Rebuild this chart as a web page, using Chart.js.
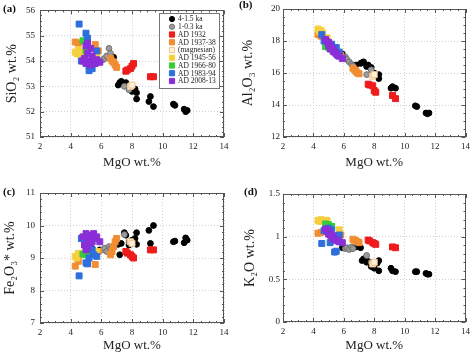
<!DOCTYPE html>
<html>
<head>
<meta charset="utf-8">
<script src="https://cdn.jsdelivr.net/npm/chart.js@4"></script>
<style>
  body { margin: 0; background: #fff; }
  canvas { position: absolute; }
</style>
</head>
<body>
<canvas id="ca" width="237" height="176" style="left:0;top:0"></canvas>
<canvas id="cb" width="237" height="176" style="left:237px;top:0"></canvas>
<canvas id="cc" width="237" height="177" style="left:0;top:176px"></canvas>
<canvas id="cd" width="237" height="177" style="left:237px;top:176px"></canvas>
<script>
// tick values
const xTicks = [2, 4, 6, 8, 10, 12, 14];
const sio2Ticks = [51, 52, 53, 54, 55, 56];
const al2o3Ticks = [12, 14, 16, 18, 20];
const fe2o3Ticks = [7, 8, 9, 10, 11];
const k2oTicks = [0, 0.5, 1, 1.5];

const seriesLabels = ['4-1.5 ka', '1-0.3 ka', 'AD 1932', 'AD 1937-38', '(magnesian)',
  'AD 1945-56', 'AD 1966-80', 'AD 1983-94', 'AD 2008-13'];

// 4-1.5 ka
const mgoKa4 = [5.4, 5.9, 6.8, 7.1, 7.2, 7.3, 7.5, 7.6, 7.8, 8.0, 8.2, 8.3, 8.3, 9.1, 9.2, 9.4, 10.7, 10.8, 11.4, 11.5, 11.6];
const sio2Ka4 = [53.9, 54.0, 54.15, 53.05, 53.15, 53.2, 53.1, 53.15, 52.95, 52.8, 52.9, 52.75, 52.5, 52.4, 52.6, 52.2, 52.3, 52.25, 52.1, 52.0, 52.05];
const al2o3Ka4 = [17.4, 17.2, 16.5, 16.6, 16.65, 16.7, 16.4, 16.5, 16.35, 16.0, 15.8, 15.65, 15.9, 15.05, 15.15, 15.05, 13.95, 13.9, 13.5, 13.45, 13.5];
const fe2o3Ka4 = [9.3, 9.25, 9.35, 9.42, 9.1, 9.45, 9.78, 9.7, 9.4, 9.55, 9.6, 9.78, 9.42, 9.85, 9.45, 10.0, 9.5, 9.52, 9.47, 9.62, 9.55];
const k2oKa4 = [0.82, 0.87, 0.88, 0.87, 0.72, 0.74, 0.7, 0.71, 0.65, 0.63, 0.69, 0.6, 0.72, 0.63, 0.6, 0.59, 0.59, 0.59, 0.57, 0.56, 0.56];

// 1-0.3 ka
const mgoKa1 = [6.1, 6.2, 6.35, 6.5, 6.6, 7.5, 7.8];
const sio2Ka1 = [54.05, 54.1, 54.2, 54.5, 54.3, 53.0, 52.87];
const al2o3Ka1 = [17.0, 16.85, 16.7, 16.55, 16.45, 15.9, 16.2];
const fe2o3Ka1 = [9.25, 9.3, 9.2, 9.35, 9.28, 9.72, 9.5];
const k2oKa1 = [0.86, 0.87, 0.85, 0.88, 0.86, 0.78, 0.7];

// AD 1932
const mgo1932 = [7.6, 7.7, 7.9, 8.0, 8.1, 9.2, 9.4];
const sio21932 = [53.6, 53.65, 53.7, 53.8, 53.9, 53.38, 53.38];
const al2o31932 = [15.3, 15.25, 15.2, 14.9, 14.8, 14.6, 14.4];
const fe2o31932 = [9.2, 9.15, 9.1, 9.05, 9.0, 9.25, 9.25];
const k2o1932 = [0.96, 0.95, 0.93, 0.92, 0.91, 0.88, 0.87];

// AD 1937-38
const mgo1937 = [4.3, 4.5, 5.6, 5.8, 6.6, 6.7, 6.8, 6.9, 7.0];
const sio21937 = [54.75, 54.7, 54.65, 54.4, 54.1, 54.0, 53.95, 53.85, 53.75];
const al2o31937 = [18.4, 18.3, 17.3, 17.1, 16.3, 16.2, 16.1, 16.0, 15.95];
const fe2o31937 = [8.75, 8.9, 8.8, 9.2, 9.1, 9.2, 9.35, 9.5, 9.6];
const k2o1937 = [1.04, 1.05, 1.0, 1.02, 0.97, 0.96, 0.95, 0.94, 0.93];

// (magnesian)
const mgoMag = [7.9, 8.0];
const sio2Mag = [53.0, 53.05];
const al2o3Mag = [15.8, 15.9];
const fe2o3Mag = [9.5, 9.45];
const k2oMag = [0.68, 0.7];

// AD 1945-56
const mgo1945 = [4.3, 4.4, 4.5, 4.6, 4.9, 5.7];
const sio21945 = [54.35, 54.3, 54.45, 54.25, 54.35, 54.2];
const al2o31945 = [18.75, 18.6, 18.65, 18.5, 18.2, 17.3];
const fe2o31945 = [9.05, 9.0, 9.14, 9.1, 9.15, 9.2];
const k2o1945 = [1.19, 1.18, 1.2, 1.19, 1.19, 1.08];

// AD 1966-80
const mgo1966 = [4.8, 5.0, 5.2];
const sio21966 = [54.8, 54.4, 53.8];
const al2o31966 = [17.65, 17.6, 17.5];
const fe2o31966 = [9.12, 9.1, 9.15];
const k2o1966 = [1.15, 1.14, 1.12];

// AD 1983-94
const mgo1983 = [4.55, 4.7, 5.0, 5.1, 5.2, 5.4, 5.5, 5.7];
const sio21983 = [55.46, 54.0, 55.1, 54.9, 53.62, 53.7, 53.9, 54.4];
const al2o31983 = [18.4, 18.0, 17.9, 17.7, 17.8, 17.55, 17.6, 17.3];
const fe2o31983 = [8.45, 9.6, 8.85, 8.82, 9.0, 9.25, 9.1, 9.05];
const k2o1983 = [0.92, 1.07, 1.1, 0.93, 1.08, 0.82, 0.83, 1.02];

// AD 2008-13
const mgo2008 = [4.8, 4.9, 5.0, 5.0, 5.1, 5.1, 5.2, 5.3, 5.3, 5.4, 5.5, 5.6, 5.7, 5.9];
const sio22008 = [54.0, 54.1, 54.6, 53.9, 54.7, 54.3, 54.0, 54.5, 53.85, 54.2, 54.0, 53.9, 54.05, 53.95];
const al2o32008 = [18.1, 17.95, 17.9, 17.7, 17.75, 17.5, 17.55, 17.35, 17.5, 17.3, 17.2, 17.1, 17.05, 16.9];
const fe2o32008 = [9.65, 9.4, 9.75, 9.25, 9.55, 9.35, 9.65, 9.45, 9.7, 9.5, 9.75, 9.6, 9.65, 9.5];
const k2o2008 = [1.09, 1.06, 1.07, 1.03, 1.04, 1.02, 1.0, 1.01, 0.98, 0.97, 0.96, 0.95, 0.94, 0.93];

const mgoAll = [mgoKa4, mgoKa1, mgo1932, mgo1937, mgoMag, mgo1945, mgo1966, mgo1983, mgo2008];
const oxides = {
  sio2: [sio2Ka4, sio2Ka1, sio21932, sio21937, sio2Mag, sio21945, sio21966, sio21983, sio22008],
  al2o3: [al2o3Ka4, al2o3Ka1, al2o31932, al2o31937, al2o3Mag, al2o31945, al2o31966, al2o31983, al2o32008],
  fe2o3: [fe2o3Ka4, fe2o3Ka1, fe2o31932, fe2o31937, fe2o3Mag, fe2o31945, fe2o31966, fe2o31983, fe2o32008],
  k2o: [k2oKa4, k2oKa1, k2o1932, k2o1937, k2oMag, k2o1945, k2o1966, k2o1983, k2o2008]
};

const styles = [
  { shape: 'circle', fill: '#000000', stroke: '#000000' },
  { shape: 'circle', fill: '#9c9c9c', stroke: '#707070' },
  { shape: 'rect', fill: '#ee1c1c', stroke: '#ee1c1c' },
  { shape: 'rect', fill: '#f18d32', stroke: '#f18d32' },
  { shape: 'rect', fill: '#fdf0dd', stroke: '#f2c28a' },
  { shape: 'rect', fill: '#f6cf3f', stroke: '#f6cf3f' },
  { shape: 'rect', fill: '#3acb3a', stroke: '#3acb3a' },
  { shape: 'rect', fill: '#2e6fdc', stroke: '#2e6fdc' },
  { shape: 'rect', fill: '#8a2fd8', stroke: '#8a2fd8' }
];

const serif = 'Liberation Serif, Times New Roman, serif';

// frame, inner ticks, panel letter, legend
const decoPlugin = {
  id: 'deco',
  beforeDatasetsDraw(chart, args, o) {
    const { ctx, chartArea: a } = chart;
    const x = chart.scales.x, y = chart.scales.y;
    ctx.save();
    ctx.strokeStyle = '#555';
    ctx.lineWidth = 1;
    ctx.beginPath();
    let n = Math.round((x.max - x.min) / o.xMinor), r = Math.round(o.xMajor / o.xMinor);
    for (let i = 0; i <= n; i++) {
      const px = Math.round(x.getPixelForValue(x.min + i * o.xMinor)) + 0.5;
      const len = i % r === 0 ? 4 : 2;
      ctx.moveTo(px, a.bottom); ctx.lineTo(px, a.bottom - len);
      ctx.moveTo(px, a.top); ctx.lineTo(px, a.top + len);
    }
    n = Math.round((y.max - y.min) / o.yMinor); r = Math.round(o.yMajor / o.yMinor);
    for (let i = 0; i <= n; i++) {
      const py = Math.round(y.getPixelForValue(y.min + i * o.yMinor)) + 0.5;
      const len = i % r === 0 ? 4 : 2;
      ctx.moveTo(a.left, py); ctx.lineTo(a.left + len, py);
      ctx.moveTo(a.right, py); ctx.lineTo(a.right - len, py);
    }
    ctx.stroke();
    ctx.strokeRect(Math.round(a.left) + 0.5, Math.round(a.top) + 0.5,
      Math.round(a.width) - 1, Math.round(a.height) - 1);
    ctx.restore();
  },
  afterDraw(chart, args, o) {
    const ctx = chart.ctx;
    ctx.save();
    ctx.fillStyle = '#111';
    ctx.font = 'bold 11px ' + serif;
    ctx.textBaseline = 'middle';
    ctx.fillText(o.tag, o.tagX, o.tagY);
    if (o.legend) {
      const L = o.legend;
      ctx.fillStyle = '#fff';
      ctx.fillRect(L.x, L.y, L.w, L.h);
      ctx.strokeStyle = '#777';
      ctx.lineWidth = 1;
      ctx.strokeRect(L.x + 0.5, L.y + 0.5, L.w, L.h);
      ctx.font = '7.5px ' + serif;
      chart.data.datasets.forEach((ds, i) => {
        const cy = L.y + L.first + i * L.step;
        const cx = L.x + L.sym;
        ctx.fillStyle = ds.backgroundColor;
        ctx.strokeStyle = ds.borderColor;
        ctx.beginPath();
        if (ds.pointStyle === 'circle') ctx.arc(cx, cy, 2.6, 0, Math.PI * 2);
        else ctx.rect(cx - 2.6, cy - 2.6, 5.2, 5.2);
        ctx.fill();
        ctx.stroke();
        ctx.fillStyle = '#222';
        ctx.fillText(ds.label, L.x + L.text, cy + 0.5);
      });
    }
    ctx.restore();
  }
};

const panels = [
  { id: 'ca', tag: '(a)', tagX: 3, tagY: 9, key: 'sio2', title: 'SiO\u2082 wt.%', ticks: sio2Ticks, yMinor: 0.2,
    pad: { left: 0, right: 13, top: 10, bottom: 0 }, yw: 40, xh: 39, ytPad: 4, yPad: 5, xtPad: 6,
    legend: { x: 159, y: 13, w: 60, h: 75, first: 6, step: 7.75, sym: 13, text: 19 } },
  { id: 'cb', tag: '(b)', tagX: 2, tagY: 5, key: 'al2o3', title: 'Al\u2082O\u2083 wt.%', ticks: al2o3Ticks, yMinor: 0.5,
    pad: { left: 0, right: 6, top: 9, bottom: 0 }, yw: 46, xh: 39, ytPad: 3, yPad: 3, xtPad: 6 },
  { id: 'cc', tag: '(c)', tagX: 3, tagY: 16, key: 'fe2o3', title: 'Fe\u2082O\u2083* wt.%', ticks: fe2o3Ticks, yMinor: 0.2,
    pad: { left: 0, right: 13, top: 17, bottom: 0 }, yw: 40, xh: 30, ytPad: 2, yPad: 5, xtPad: 0 },
  { id: 'cd', tag: '(d)', tagX: 7, tagY: 16, key: 'k2o', title: 'K\u2082O wt.%', ticks: k2oTicks, yMinor: 0.1,
    pad: { left: 0, right: 6, top: 18, bottom: 0 }, yw: 46, xh: 31, ytPad: 5, yPad: 3, xtPad: 0 }
];

panels.forEach(p => {
  const datasets = seriesLabels.map((label, i) => {
    const ys = oxides[p.key][i];
    const st = styles[i];
    return {
      label: label,
      data: mgoAll[i].map((m, k) => ({ x: m, y: ys[k] })),
      pointStyle: st.shape,
      pointRadius: st.shape === 'rect' ? 4.2 : 2.9,
      backgroundColor: st.fill,
      borderColor: st.stroke,
      borderWidth: 1,
      order: seriesLabels.length - 1 - i
    };
  });
  const yt = p.ticks;
  new Chart(document.getElementById(p.id), {
    type: 'scatter',
    data: { datasets: datasets },
    options: {
      responsive: false,
      animation: false,
      devicePixelRatio: 1,
      events: [],
      layout: { padding: p.pad, autoPadding: false },
      plugins: {
        legend: { display: false },
        tooltip: { enabled: false },
        deco: { tag: p.tag, tagX: p.tagX, tagY: p.tagY, legend: p.legend,
          xMinor: 0.5, xMajor: 2, yMinor: p.yMinor, yMajor: yt[1] - yt[0] }
      },
      scales: {
        x: {
          type: 'linear', position: 'bottom', min: xTicks[0], max: xTicks[xTicks.length - 1],
          afterBuildTicks: ax => { ax.ticks = xTicks.map(v => ({ value: v })); },
          afterFit: ax => { ax.height = p.xh; },
          grid: { color: '#d0d0d0', lineWidth: 1, drawTicks: false },
          border: { display: false, dash: [1, 2] },
          ticks: { padding: 4, color: '#222', autoSkip: false, maxRotation: 0,
            font: { family: serif, size: 9 }, callback: v => String(v) },
          title: { display: true, text: 'MgO wt.%', color: '#222',
            font: { family: serif, size: 13 }, padding: { top: 0, bottom: p.xtPad } }
        },
        y: {
          type: 'linear', position: 'left', min: yt[0], max: yt[yt.length - 1],
          afterBuildTicks: ax => { ax.ticks = yt.map(v => ({ value: v })); },
          afterFit: ax => { ax.width = p.yw; },
          grid: { color: '#d0d0d0', lineWidth: 1, drawTicks: false },
          border: { display: false, dash: [1, 2] },
          ticks: { padding: p.yPad, color: '#222', autoSkip: false,
            font: { family: serif, size: 9 }, callback: v => String(v) },
          title: { display: true, text: p.title, color: '#222',
            font: { family: serif, size: 14 }, padding: { top: p.ytPad, bottom: 0 } }
        }
      }
    },
    plugins: [decoPlugin]
  });
});
</script>
</body>
</html>
